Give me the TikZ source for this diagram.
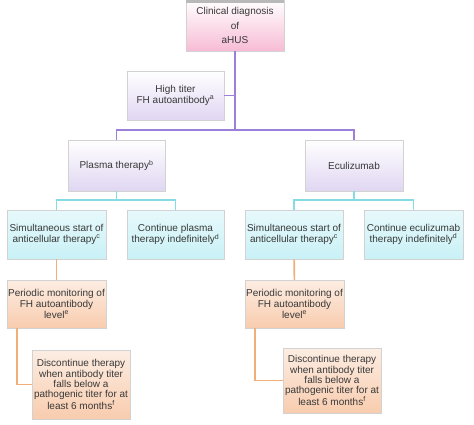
\documentclass[tikz,border=0pt]{standalone}
\usepackage{fontspec}
\setmainfont{Liberation Sans}
\usepackage{tikz}
\usetikzlibrary{positioning,shadows}

\definecolor{txtgray}{HTML}{383838}
\definecolor{pinkbox}{HTML}{F7BCD5}
\definecolor{lilacbox}{HTML}{E0D6F2}
\definecolor{cyanbox}{HTML}{C9F1F6}
\definecolor{peachbox}{HTML}{F8CCAE}
\definecolor{lilacline}{HTML}{9A80D8}
\definecolor{cyanline}{HTML}{86DCE4}
\definecolor{peachline}{HTML}{F2AE78}

\begin{document}
\begin{tikzpicture}[x=1pt,y=-1pt]
		\tikzset{box style/.style={rectangle,
				draw=gray!35,
				line width=0.5pt,
				align=center,
				text=txtgray,
				inner sep=1pt,
				font=\fontsize{10}{10.7}\selectfont,
				drop shadow={shadow xshift=0.8pt,shadow yshift=-1.2pt,opacity=0.35,fill=gray}},
			pink box/.style={box style,top color=white,bottom color=pinkbox},
			lilac box/.style={box style,top color=white,bottom color=lilacbox},
			cyan box/.style={box style,top color=cyanbox!45,bottom color=cyanbox},
			peach box/.style={box style,top color=peachbox!35,bottom color=peachbox},
			link/.style={line width=1.6pt}}
		\useasboundingbox (0,0) rectangle (474,424);
			
		% Draw the boxes
		\node[pink box,minimum width=98pt,minimum height=51pt,font=\fontsize{10}{14.3}\selectfont] at (235,25.5) (diag) {Clinical diagnosis\\of\\aHUS};
		\node[lilac box,minimum width=97pt,minimum height=49pt] at (175.5,95.5) (titer) {High titer\\FH autoantibody\textsuperscript{a}};
		\node[lilac box,minimum width=97pt,minimum height=51pt] at (116.5,165.5) (plasma) {Plasma therapy\textsuperscript{b}};
		\node[lilac box,minimum width=98pt,minimum height=51pt] at (354,165.5) (ecu) {Eculizumab};
		\node[cyan box,minimum width=99pt,minimum height=49pt] at (56.5,234.5) (simL) {Simultaneous start of\\anticellular therapy\textsuperscript{c}};
		\node[cyan box,minimum width=97pt,minimum height=49pt] at (175.5,234.5) (contP) {Continue plasma\\therapy indefinitely\textsuperscript{d}};
		\node[cyan box,minimum width=98pt,minimum height=49pt] at (294,234.5) (simR) {Simultaneous start of\\anticellular therapy\textsuperscript{c}};
		\node[cyan box,minimum width=99pt,minimum height=49pt] at (413.5,234.5) (contE) {Continue eculizumab\\therapy indefinitely\textsuperscript{d}};
		\node[peach box,minimum width=99pt,minimum height=48pt] at (56.5,304) (monL) {Periodic monitoring of\\FH autoantibody\\level\textsuperscript{e}};
		\node[peach box,minimum width=99pt,minimum height=48pt] at (294.5,304) (monR) {Periodic monitoring of\\FH autoantibody\\level\textsuperscript{e}};
		\node[peach box,minimum width=98pt,minimum height=69pt,font=\fontsize{10}{10.2}\selectfont] at (81,384.5) (discL) {Discontinue therapy\\when antibody titer\\falls below a\\pathogenic titer for at\\least 6 months\textsuperscript{f}};
		\node[peach box,minimum width=98pt,minimum height=65pt,font=\fontsize{10}{10.2}\selectfont] at (332,380.5) (discR) {Discontinue therapy\\when antibody titer\\falls below a\\pathogenic titer for at\\least 6 months\textsuperscript{f}};
		% top edge of the first box
		\fill[gray!55] (diag.north west) rectangle ([yshift=-3pt]diag.north east);
		
		% Junction points
		\coordinate (split) at (235,130);
		\coordinate (splitP) at (116.5,200);
		\coordinate (splitE) at (354,200);
		
		% Connect the boxes
		\draw[link,lilacline] (diag) -- (split);
		\draw[link,lilacline] (titer.east) -- (titer.east -| split);
		\draw[link,lilacline] (plasma.north) |- (split) -| (ecu.north);
		\draw[link,cyanline] (plasma) -- (splitP);
		\draw[link,cyanline] (simL.north) |- (splitP) -| (contP.north);
		\draw[link,cyanline] (ecu) -- (splitE);
		\draw[link,cyanline] (simR.north) |- (splitE) -| (contE.north);
		\draw[link,peachline] (simL) -- (monL);
		\draw[link,peachline] (simR) -- (monR);
		\draw[link,peachline] ([xshift=10pt]monL.south west) |- (discL.west);
		\draw[link,peachline] ([xshift=10pt]monR.south west) |- (discR.west);
		
\end{tikzpicture}
\end{document}
